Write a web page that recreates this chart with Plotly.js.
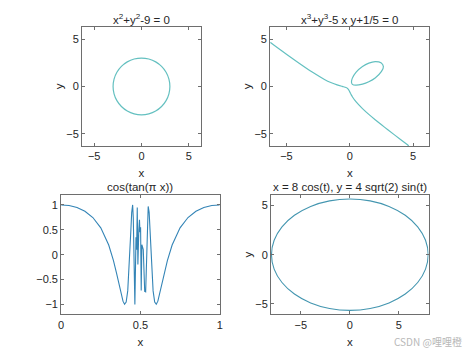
<!DOCTYPE html>
<html>
<head>
<meta charset="utf-8">
<script src="https://cdn.plot.ly/plotly-3.0.1.min.js"></script>
<style>html,body{margin:0;padding:0;background:#fff}#chart{width:474px;height:355px}</style>
</head>
<body>
<div id="chart"></div>
<script>
// Subplot 1: circle x^2+y^2-9=0
const circleX = [3, 2.898, 2.598, 2.121, 1.5, 0.776, 0, -0.776, -1.5, -2.121, -2.598, -2.898, -3, -2.898, -2.598, -2.121, -1.5, -0.776, 0, 0.776, 1.5, 2.121, 2.598, 2.898, 3];
const circleY = [0, 0.776, 1.5, 2.121, 2.598, 2.898, 3, 2.898, 2.598, 2.121, 1.5, 0.776, 0, -0.776, -1.5, -2.121, -2.598, -2.898, -3, -2.898, -2.598, -2.121, -1.5, -0.776, 0];

// Subplot 2: x^3+y^3-5xy+1/5=0, main branch and loop
const branchX = [-6.28, -6, -5, -4, -3, -2, -1.5, -1, -0.6, -0.5, -0.3, -0.2, -0.1, 0, 0.05, 0.1, 0.2, 0.5, 1, 1.5, 2, 2.5, 3, 4, 4.5, 4.65];
const branchY = [4.66, 4.384, 3.405, 2.452, 1.542, 0.74, 0.414, 0.159, 0.005, -0.03, -0.114, -0.186, -0.328, -0.585, -0.725, -0.857, -1.091, -1.643, -2.347, -2.952, -3.512, -4.05, -4.577, -5.607, -6.118, -6.28];
const loopX = [0.13, 0.2, 0.465, 1, 1.5, 2, 2.5, 2.65, 2.46, 2, 1.5, 1, 0.5, 0.2, 0.13];
const loopY = [0.465, 0.22, 0.13, 0.243, 0.493, 0.891, 1.585, 2.1, 2.5, 2.62, 2.46, 2.105, 1.51, 0.88, 0.465];

// Subplot 3: cos(tan(pi x))
const cosX = [0, 0.05, 0.1, 0.15, 0.2, 0.25, 0.3, 0.33, 0.35, 0.37, 0.39, 0.4, 0.41, 0.42, 0.43, 0.44, 0.445, 0.451, 0.455, 0.46, 0.465, 0.472, 0.476, 0.48, 0.484, 0.49, 0.494, 0.497, 0.501, 0.505, 0.509, 0.518, 0.527, 0.533, 0.549, 0.555, 0.56, 0.57, 0.58, 0.59, 0.6, 0.61, 0.63, 0.65, 0.67, 0.7, 0.75, 0.8, 0.85, 0.9, 0.95, 1];
const cosY = [1, 0.988, 0.948, 0.873, 0.747, 0.54, 0.193, -0.12, -0.382, -0.666, -0.935, -0.998, -0.954, -0.729, -0.2, 0.506, 0.851, 1.0, 0.736, -0.062, -1.0, 0.35, 0.1, 0.95, -0.2, 0.5, 0.7, 0.45, 0.55, -0.72, 0.2, 0.1, -0.74, -0.75, 0.97, 0.851, 0.506, -0.2, -0.729, -0.954, -0.998, -0.935, -0.666, -0.382, -0.12, 0.193, 0.54, 0.747, 0.873, 0.948, 0.988, 1];

// Subplot 4: ellipse x = 8 cos(t), y = 4 sqrt(2) sin(t)
const ellX = [8, 7.727, 6.928, 5.657, 4, 2.071, 0, -2.071, -4, -5.657, -6.928, -7.727, -8, -7.727, -6.928, -5.657, -4, -2.071, 0, 2.071, 4, 5.657, 6.928, 7.727, 8];
const ellY = [0, 1.464, 2.828, 4, 4.899, 5.464, 5.657, 5.464, 4.899, 4, 2.828, 1.464, 0, -1.464, -2.828, -4, -4.899, -5.464, -5.657, -5.464, -4.899, -4, -2.828, -1.464, 0];

const titles = ['x<sup>2</sup>+y<sup>2</sup>-9 = 0', 'x<sup>3</sup>+y<sup>3</sup>-5 x y+1/5 = 0', 'cos(tan(π x))', 'x = 8 cos(t), y = 4 sqrt(2) sin(t)'];
const ticks3X = [0, 0.5, 1];
const ticks3Y = [-1, -0.5, 0, 0.5, 1];
const ticksStd = [-5, 0, 5];

const teal = '#64c0c0';
const blue = '#3384b6';
const ellColor = '#4496b0';

const traces = [
  {x: circleX, y: circleY, xaxis: 'x', yaxis: 'y', mode: 'lines', line: {color: teal, width: 1.2, shape: 'spline'}, hoverinfo: 'skip'},
  {x: branchX, y: branchY, xaxis: 'x2', yaxis: 'y2', mode: 'lines', line: {color: teal, width: 1.2, shape: 'spline', smoothing: 0.6}, hoverinfo: 'skip'},
  {x: loopX, y: loopY, xaxis: 'x2', yaxis: 'y2', mode: 'lines', line: {color: teal, width: 1.2, shape: 'spline'}, hoverinfo: 'skip'},
  {x: cosX, y: cosY, xaxis: 'x3', yaxis: 'y3', mode: 'lines', line: {color: blue, width: 1.1}, hoverinfo: 'skip'},
  {x: ellX, y: ellY, xaxis: 'x4', yaxis: 'y4', mode: 'lines', line: {color: ellColor, width: 1.1, shape: 'spline'}, hoverinfo: 'skip'}
];

const font = {family: 'Liberation Sans, Arial, sans-serif', size: 11, color: '#262626'};
const titleFont = {family: 'Liberation Sans, Arial, sans-serif', size: 11.5, color: '#262626'};
function ax(domain, range, tickvals, anchor, title, standoff) {
  const a = {
    domain: domain, range: range, tickvals: tickvals, anchor: anchor,
    showgrid: false, zeroline: false, showline: true, mirror: 'ticks',
    linecolor: '#6e6e6e', linewidth: 1, ticks: 'inside', ticklen: 3, tickcolor: '#6e6e6e',
    tickfont: font, fixedrange: true
  };
  if (title) a.title = {text: title, font: {family: font.family, size: 11.5, color: '#262626'}, standoff: standoff};
  return a;
}
const R = 6.2832;
const layout = {
  width: 474, height: 355,
  margin: {l: 0, r: 0, t: 0, b: 0},
  paper_bgcolor: '#ffffff', plot_bgcolor: '#ffffff',
  showlegend: false,
  font: font,
  xaxis: ax([0.173, 0.424], [-R, R], ticksStd, 'y', 'x', 7),
  yaxis: ax([0.589, 0.924], [-R, R], ticksStd, 'x', 'y', 0),
  xaxis2: ax([0.570, 0.906], [-R, R], ticksStd, 'y2', 'x', 7),
  yaxis2: ax([0.589, 0.924], [-R, R], ticksStd, 'x2', 'y', 0),
  xaxis3: ax([0.129, 0.4635], [0, 1], ticks3X, 'y3', 'x', 8),
  yaxis3: ax([0.1146, 0.4507], [-1.2, 1.2], ticks3Y, 'x3', null, 0),
  xaxis4: ax([0.5717, 0.9044], [-8.05, 8.05], ticksStd, 'y4', 'x', 8),
  yaxis4: ax([0.1146, 0.4507], [-6.06, 6.06], ticksStd, 'x4', 'y', 0),
  annotations: [
    {text: titles[0], x: (0.173 + 0.424) / 2, y: 0.924, xref: 'paper', yref: 'paper', xanchor: 'center', yanchor: 'bottom', showarrow: false, font: titleFont, yshift: -1},
    {text: titles[1], x: (0.570 + 0.906) / 2, y: 0.924, xref: 'paper', yref: 'paper', xanchor: 'center', yanchor: 'bottom', showarrow: false, font: titleFont, yshift: -1},
    {text: titles[2], x: (0.129 + 0.4635) / 2, y: 0.4507, xref: 'paper', yref: 'paper', xanchor: 'center', yanchor: 'bottom', showarrow: false, font: titleFont},
    {text: titles[3], x: (0.5717 + 0.9044) / 2, y: 0.4507, xref: 'paper', yref: 'paper', xanchor: 'center', yanchor: 'bottom', showarrow: false, font: titleFont},
    {text: 'CSDN @哩哩橙', x: 0.978, y: 0.012, xref: 'paper', yref: 'paper', xanchor: 'right', yanchor: 'bottom', showarrow: false, font: {family: 'Noto Sans CJK SC, sans-serif', size: 10, color: '#b8b8b8'}}
  ]
};
Plotly.newPlot('chart', traces, layout, {displayModeBar: false, staticPlot: true});
</script>
</body>
</html>
